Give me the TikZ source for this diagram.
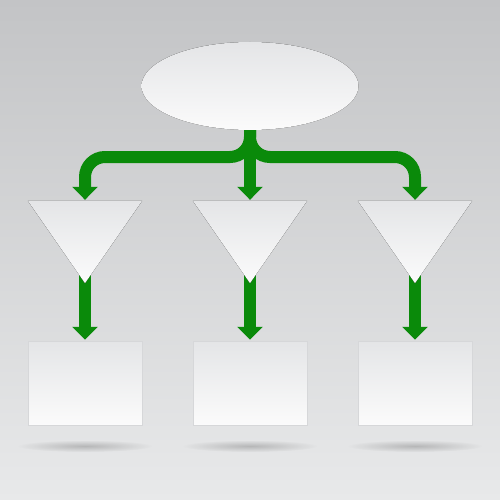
\documentclass[tikz,border=0pt]{standalone}
\usetikzlibrary{shapes.geometric,arrows.meta,fadings}
\definecolor{bgtop}{HTML}{C3C4C6}
\definecolor{bgbot}{HTML}{E8E9EA}
\definecolor{shtop}{HTML}{E4E5E7}
\definecolor{shbot}{HTML}{FBFBFB}
\definecolor{flowgreen}{HTML}{0A8A0A}
\definecolor{edgegray}{HTML}{D6D7D9}
\tikzfading[name=softshadow, inner color=transparent!0, outer color=transparent!100]
\tikzset{
  shapefill/.style={top color=shtop, bottom color=shbot},
  flow/.style={draw=flowgreen, line width=12pt, rounded corners=20pt,
    -{Triangle[width=25pt,length=13pt]}},
  boxnode/.style={rectangle, minimum width=114pt, minimum height=84pt, inner sep=0pt,
    shapefill, draw=edgegray, line width=0.5pt},
  trinode/.style={rectangle, minimum width=114pt, minimum height=82pt, inner sep=0pt},
  floorshadow/.style={fill=black, opacity=0.2, path fading=softshadow}
}
\begin{document}
\begin{tikzpicture}[x=1pt,y=-1pt]
\shade[top color=bgtop, bottom color=bgbot] (0,0) rectangle (500,500);
\useasboundingbox (0,0) rectangle (500,500);

% floor shadows
\foreach \cx in {85,250,415}
  \fill[floorshadow] (\cx,446) ellipse (68 and 6);

% invisible holders
\node[trinode] (t1) at (85,242) {};
\node[trinode] (t2) at (250,242) {};
\node[trinode] (t3) at (415,242) {};

% top ellipse
\node[ellipse, minimum width=217pt, minimum height=88pt, inner sep=0pt, shapefill] (top) at (250,86) {};

% connectors from ellipse to triangles
\draw[flow] ([yshift=4pt]top.south) |- (t1.north |- 0,157) -- ([yshift=1pt]t1.north);
\draw[flow] ([yshift=4pt]top.south) |- (t3.north |- 0,157) -- ([yshift=1pt]t3.north);
\draw[flow] ([yshift=4pt]top.south) -- ([yshift=1pt]t2.north);

% boxes
\node[boxnode] (b1) at (85,383) {};
\node[boxnode] (b2) at (250,383) {};
\node[boxnode] (b3) at (415,383) {};

% connectors from triangles to boxes
\foreach \i in {1,2,3}
  \draw[flow] ([yshift=15pt]t\i.south) -- ([yshift=1pt]b\i.north);

% triangles
\foreach \i in {1,2,3}
  \fill[shapefill] (t\i.north west) -- (t\i.north east) -- (t\i.south) -- cycle;

% redraw ellipse on top of stem start
\fill[shapefill] (top.center) ellipse (108.5 and 44);

\end{tikzpicture}
\end{document}
